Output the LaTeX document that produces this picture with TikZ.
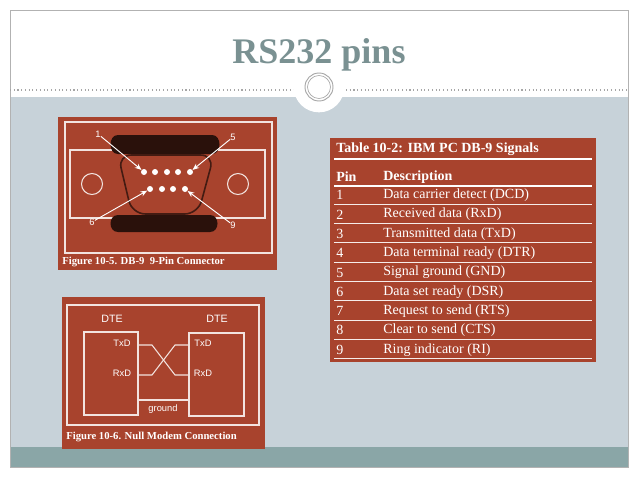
\documentclass[tikz,border=0pt]{standalone}
\usepackage{fontspec}
\setmainfont{Liberation Serif}
\setsansfont{Liberation Sans}
\usetikzlibrary{arrows.meta}
\definecolor{brick}{HTML}{A8432D}
\definecolor{slate}{HTML}{C7D2D9}
\definecolor{band}{HTML}{8AA6A7}
\definecolor{titlec}{HTML}{7A9192}
\tikzset{
  wl/.style={draw=white!85!brick, line width=0.8pt},
  lab/.style={text=white, font=\sffamily\fontsize{7}{8}\selectfont, inner sep=0pt},
  lab2/.style={text=white, font=\sffamily\fontsize{8}{9}\selectfont, inner sep=0pt},
  figcap/.style={text=white, font=\bfseries\fontsize{8}{9}\selectfont, inner sep=0pt, anchor=west},
  row/.style={text=white, font=\fontsize{10.5}{12}\selectfont, inner sep=0pt, anchor=west},
  pin/.style={circle, fill=white, minimum size=4.5pt, inner sep=0pt},
  arr/.style={draw=white, line width=0.7pt, -{Stealth[length=5pt,width=4pt]}}
}
\begin{document}
\begin{tikzpicture}[x=0.75pt,y=-0.75pt]
\useasboundingbox (0,0) rectangle (638,478);
\fill[white] (0,0) rectangle (638,478);
\fill[slate] (10,97) rectangle (628,447);
\fill[band] (10,447) rectangle (628,467);
\draw[gray!60, line width=0.6pt] (10,10) rectangle (628,467);
\draw[gray!70, dotted, line width=0.8pt] (10,90) -- (628,90);
\node[circle, fill=white, minimum size=38, inner sep=0pt] (ring) at (319,87) {};
\draw[gray!70, line width=0.7pt] (319,87) circle (14);
\draw[gray!70, line width=0.5pt] (319,87) circle (11.5);
\node[text=titlec, font=\bfseries\fontsize{27}{30}\selectfont] (title) at (319,55) {RS232 pins};

% Figure 10-5
\fill[brick] (58,117) rectangle (277,270);
\draw[wl] (65,122) rectangle (272,253);
\draw[wl] (70,150) rectangle (265,218);
\draw[wl] (92,184) circle (10.5);
\draw[wl] (238,184) circle (10.5);
\fill[black!75!brick] (118,135) -- (212,135) .. controls (222,135) and (222,154) .. (212,154) -- (118,154) .. controls (108,154) and (108,135) .. (118,135) -- cycle;
\fill[black!75!brick] (118,215) -- (210,215) .. controls (220,215) and (220,232) .. (210,232) -- (118,232) .. controls (108,232) and (108,215) .. (118,215) -- cycle;
\draw[black!60!brick, line width=1.2pt, rounded corners=10pt] (118,155) -- (214,155) -- (198,214) -- (132,214) -- cycle;
\foreach \x/\n in {144/a1,155/a2,167/a3,178/a4,190/a5} \node[pin] (\n) at (\x,172) {};
\foreach \x/\n in {150/b6,162/b7,173/b8,185/b9} \node[pin] (\n) at (\x,189) {};
\node[lab] (l1) at (98,134) {1};
\node[lab] (l5) at (233,137) {5};
\node[lab] (l6) at (92,222) {6};
\node[lab] (l9) at (233,225) {9};
\draw[arr] (l1) -- (a1);
\draw[arr] (l5) -- (a5);
\draw[arr] (l6) -- (b6);
\draw[arr] (l9) -- (b9);
\node[figcap] (c1) at (62,262) {Figure 10-5. DB-9\ \ 9-Pin Connector};

% Figure 10-6
\fill[brick] (62,297) rectangle (265,449);
\draw[wl] (67,305) rectangle (259,425);
\node[lab2] (d1) at (112,319) {DTE};
\node[lab2] (d2) at (217,319) {DTE};
\draw[wl] (84,332) rectangle (138,415);
\draw[wl] (189,333) rectangle (244,416);
\node[lab] (t1) at (122,343) {TxD};
\node[lab] (r1) at (122,373) {RxD};
\node[lab] (t2) at (203,343) {TxD};
\node[lab] (r2) at (203,373) {RxD};
\coordinate (p1) at (138,345); \coordinate (p2) at (138,375);
\coordinate (q1) at (189,345); \coordinate (q2) at (189,375);
\draw[wl] (p1) -- (152,345) -- (175,375) -- (q2);
\draw[wl] (p2) -- (152,375) -- (175,345) -- (q1);
\draw[wl] (138,400) -- (189,400);
\node[lab] (g) at (163,409) {ground};
\node[figcap] (c2) at (66,437) {Figure 10-6. Null Modem Connection};

% Table
\fill[brick] (330,138) rectangle (596,362);
\node[row, font=\bfseries\fontsize{10.5}{12}\selectfont] (tt) at (336,149) {Table 10-2: IBM PC DB-9 Signals};
\draw[white, line width=1pt] (334,159) -- (592,159);
\node[row, font=\bfseries\fontsize{10.5}{12}\selectfont] (hp) at (336,177) {Pin};
\node[row, font=\bfseries\fontsize{10.5}{12}\selectfont] (hd) at (383,177) {Description};
\draw[white, line width=1pt] (334,186) -- (592,186);
\foreach \i/\d in {1/Data carrier detect (DCD),2/Received data (RxD),3/Transmitted data (TxD),4/Data terminal ready (DTR),5/Signal ground (GND),6/Data set ready (DSR),7/Request to send (RTS),8/Clear to send (CTS),9/Ring indicator (RI)}{
  \node[row] (p\i) at (336,{176+19.3*\i}) {\i};
  \node[row] (r\i) at (383,{176+19.3*\i}) {\d};
  \draw[white!90!brick, line width=0.8pt] (334,{185+19.3*\i}) -- (592,{185+19.3*\i});
}
\end{tikzpicture}
\end{document}
